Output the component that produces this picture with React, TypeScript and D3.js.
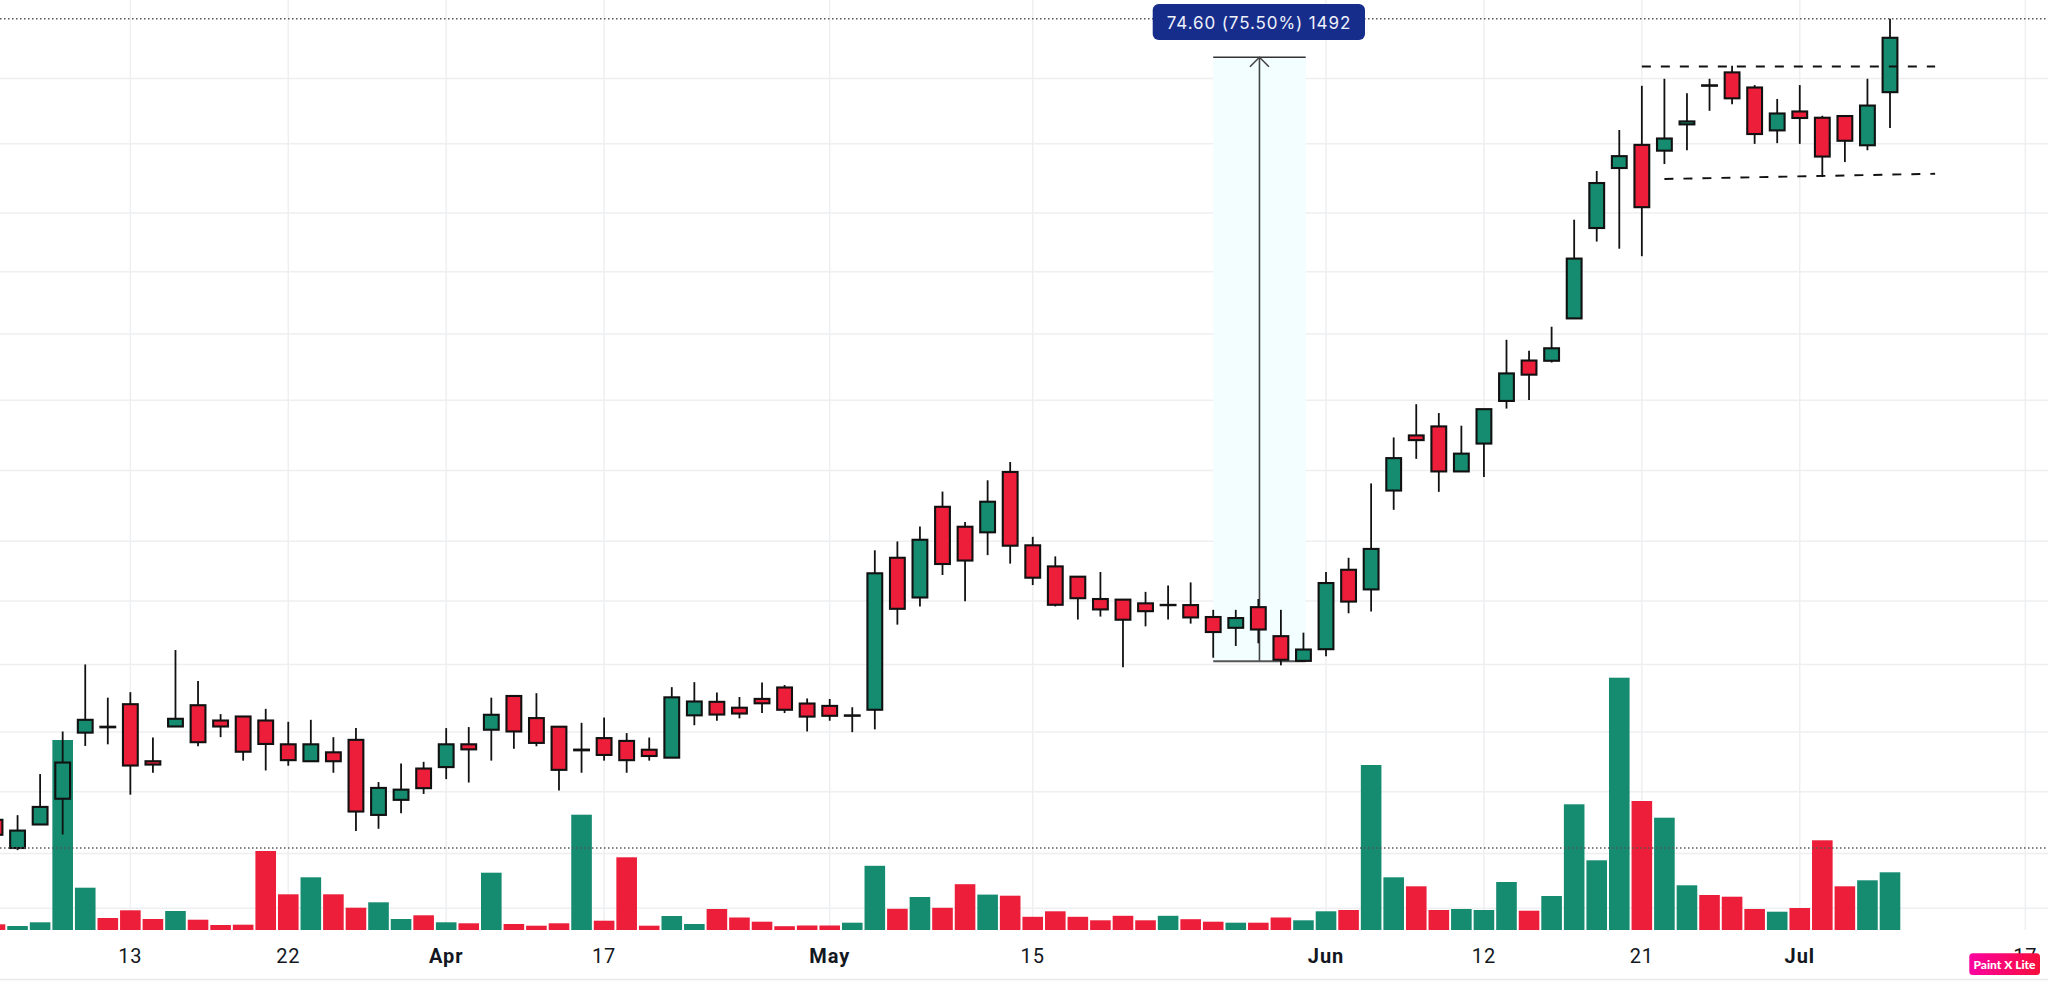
import * as d3 from 'd3';
import React, { FC, useEffect, useRef } from 'react';

const opens = [
  85.24, 83.03, 84.87, 86.93, 92.45, 92.96, 94.93, 90.02, 92.98, 94.84,
  93.5, 93.85, 93.5, 91.45, 90.02, 90.77, 91.83, 85.63, 86.84, 89.41,
  89.53, 91.45, 92.7, 95.66, 93.71, 92.96, 90.94, 91.98, 91.74, 90.99,
  90.32, 93.95, 95.14, 94.62, 95.4, 96.42, 94.99, 94.78, 93.91, 94.44,
  108.8, 104.85, 114.09, 111.99, 111.41, 117.85, 110.07, 107.93, 106.9, 104.7,
  104.64, 104.28, 104.1, 104.11, 102.96, 101.93, 103.91, 101.14, 98.84, 99.92,
  107.59, 105.64, 115.83, 121.93, 122.96, 117.91, 121.01, 125.91, 130.74, 130.71,
  135.97, 147.91, 156.41, 159.82, 158.96, 162.9, 168.94, 170.98, 168.59, 161.99,
  164.87, 163.91, 164.17, 159.76, 167.86
];
const highs = [
  85.63, 85.61, 88.95, 92.55, 98.51, 95.51, 96.0, 92.03, 99.84, 97.0,
  94.06, 93.85, 94.52, 93.39, 93.56, 92.06, 92.84, 88.29, 89.83, 89.97,
  92.84, 92.93, 95.51, 95.66, 95.91, 92.96, 93.3, 93.76, 92.41, 92.03,
  96.45, 96.9, 95.98, 95.57, 96.86, 96.64, 95.44, 95.39, 94.66, 109.56,
  110.47, 112.02, 115.72, 112.49, 116.94, 118.95, 110.94, 108.94, 106.9, 107.37,
  104.64, 105.4, 106.03, 106.33, 103.65, 103.65, 104.7, 103.65, 101.47, 107.37,
  108.8, 116.6, 121.7, 125.53, 124.5, 123.04, 124.95, 133.29, 131.95, 134.92,
  149.06, 155.98, 162.05, 168.86, 169.97, 167.7, 169.97, 172.04, 168.97, 166.8,
  168.97, 164.21, 164.17, 169.97, 179.74
];
const lows = [
  83.82, 82.87, 84.87, 84.08, 91.31, 91.45, 87.26, 89.06, 92.98, 91.28,
  92.06, 90.07, 89.25, 89.64, 90.02, 89.06, 84.35, 84.53, 85.77, 87.32,
  88.53, 88.25, 90.07, 91.07, 91.28, 87.59, 89.06, 90.07, 89.06, 90.07,
  90.32, 93.09, 93.48, 93.69, 94.15, 94.15, 92.55, 93.48, 92.49, 92.73,
  102.23, 103.98, 107.07, 104.48, 109.07, 108.21, 106.07, 103.98, 102.72, 103.0,
  98.25, 102.07, 102.72, 102.33, 99.13, 100.22, 100.47, 98.43, 98.84, 99.26,
  103.32, 103.49, 113.77, 119.3, 115.69, 117.91, 117.3, 125.02, 126.02, 130.5,
  135.97, 146.06, 145.09, 144.08, 156.99, 159.02, 164.97, 165.99, 159.97, 160.08,
  159.97, 155.11, 157.28, 159.02, 162.35
];
const closes = [
  84.06, 84.39, 86.27, 89.91, 93.56, 92.91, 89.66, 89.74, 93.65, 91.63,
  92.98, 90.82, 91.48, 90.11, 91.45, 90.02, 85.9, 87.81, 87.67, 87.79,
  91.45, 91.02, 94.0, 92.55, 91.57, 89.3, 91.0, 90.55, 90.11, 90.46,
  95.54, 95.17, 94.02, 94.11, 95.01, 94.44, 93.84, 93.91, 93.95, 107.24,
  103.75, 110.64, 108.17, 108.52, 114.63, 110.03, 106.8, 104.14, 104.78, 103.69,
  102.7, 103.52, 104.13, 102.92, 101.53, 102.86, 101.77, 98.94, 99.89, 106.27,
  104.45, 109.7, 119.38, 121.4, 117.91, 119.88, 124.95, 129.18, 129.03, 132.24,
  143.76, 154.24, 158.15, 150.81, 160.77, 163.35, 168.86, 166.9, 161.44, 164.56,
  163.87, 158.09, 160.43, 165.78, 176.58
];
const volumes = [
  5.7, 4, 7.7, 190, 42.3, 12, 19.7, 11, 19, 10.3,
  5, 5.3, 79, 35.7, 52.7, 35.7, 22.3, 27.7, 11, 14.7,
  7.7, 6.7, 57.3, 6, 4.3, 6.7, 115.3, 9.3, 72.7, 4.3,
  14, 6, 21, 12.5, 8.3, 3.8, 4.5, 4.5, 7.3, 64.2,
  21.2, 33, 22.2, 45.8, 35.4, 34.3, 13.2, 18.7, 13.2, 9.7,
  14.2, 9.7, 14.2, 10.8, 8.3, 7.3, 7.3, 12.5, 9.7, 18.7,
  20, 165, 52.7, 43.7, 20, 21, 20, 48, 19.3, 34,
  125.7, 69.7, 252.3, 129, 112.3, 44.7, 35, 33.3, 21, 18.3,
  22, 89.7, 43.7, 49.7, 57.7
];

const tickIndexes = [6, 13, 20, 27, 37, 46, 59, 66, 73, 80, 90];
const tickLabels = ['13', '22', 'Apr', '17', 'May', '15', 'Jun', '12', '21', 'Jul', '17'];
const monthLabels = ['Apr', 'May', 'Jun', 'Jul'];
const gridPrices = [170, 160, 150, 142, 134, 126, 118, 110.5, 104.5, 98.5, 92.5, 87.5, 82.6, 78.5];

const priceLines = [179.74, 83.03];
const measureFrom = 98.8;
const measureTo = 173.4;
const measureStart = 54;
const measureEnd = 58.1;
const measureLabel = '74.60 (75.50%) 1492';
const upperTrend = [[73, 171.93], [86, 171.93]];
const lowerTrend = [[74, 154.82], [86, 155.58]];

const GREEN = '#158b70';
const RED = '#ec1e3a';
const GRID = '#eeeff1';

const App: FC = (): JSX.Element => {
  const ref = useRef<SVGSVGElement>(null);

  useEffect(() => {
    const width = 2048;
    const height = 982;
    const svg = d3.select(ref.current).attr('width', width).attr('height', height);
    svg.selectAll('*').remove();

    const x = d3.scaleLinear().domain([0, 84]).range([-5, 1890]);
    const y = d3.scaleLog().domain([measureTo, measureFrom]).range([57.3, 661.3]);
    const v = d3.scaleLinear().domain([0, 252]).range([930, 678]);
    const idx = d3.range(opens.length);
    const isUp = (i: number) => closes[i] >= opens[i];

    svg.append('rect').attr('width', width).attr('height', height).attr('fill', '#fff');

    // grid
    svg.append('g')
      .selectAll('line')
      .data(gridPrices)
      .join('line')
      .attr('x1', 0)
      .attr('x2', width)
      .attr('y1', (d) => y(d))
      .attr('y2', (d) => y(d))
      .attr('stroke', GRID)
      .attr('stroke-width', 1.5);
    svg.append('g')
      .selectAll('line')
      .data(tickIndexes)
      .join('line')
      .attr('x1', (d) => x(d))
      .attr('x2', (d) => x(d))
      .attr('y1', 0)
      .attr('y2', 930)
      .attr('stroke', GRID)
      .attr('stroke-width', 1.5);
    svg.append('line')
      .attr('x1', 0)
      .attr('x2', width)
      .attr('y1', 979.5)
      .attr('y2', 979.5)
      .attr('stroke', '#e6e8ec')
      .attr('stroke-width', 1.5);

    // measure box background
    svg.append('rect')
      .attr('x', x(measureStart))
      .attr('width', x(measureEnd) - x(measureStart))
      .attr('y', y(measureTo))
      .attr('height', y(measureFrom) - y(measureTo))
      .attr('fill', '#f2feff');

    // volume
    svg.append('g')
      .selectAll('rect')
      .data(idx)
      .join('rect')
      .attr('x', (i) => x(i) - 10.3)
      .attr('width', 20.6)
      .attr('y', (i) => v(volumes[i]))
      .attr('height', (i) => v(0) - v(volumes[i]))
      .attr('fill', (i) => (isUp(i) ? GREEN : RED));

    // measure tool lines sit under the candles
    const mid = (measureStart + measureEnd) / 2;
    const mx = x(mid);
    const top = y(measureTo);
    const bot = y(measureFrom);
    svg.append('line')
      .attr('x1', mx)
      .attr('x2', mx)
      .attr('y1', top)
      .attr('y2', bot)
      .attr('stroke', '#444')
      .attr('stroke-width', 1.6);
    svg.append('line')
      .attr('x1', x(measureStart))
      .attr('x2', x(measureEnd))
      .attr('y1', top)
      .attr('y2', top)
      .attr('stroke', '#333')
      .attr('stroke-width', 1.6);
    svg.append('line')
      .attr('x1', x(measureStart))
      .attr('x2', x(measureEnd))
      .attr('y1', bot)
      .attr('y2', bot)
      .attr('stroke', '#555')
      .attr('stroke-width', 2);
    svg.append('path')
      .attr('d', `M${mx - 9.5},${top + 9.5}L${mx},${top}L${mx + 9.5},${top + 9.5}`)
      .attr('fill', 'none')
      .attr('stroke', '#444')
      .attr('stroke-width', 1.6);

    // candles
    svg.append('g')
      .selectAll('line')
      .data(idx)
      .join('line')
      .attr('x1', (i) => x(i))
      .attr('x2', (i) => x(i))
      .attr('y1', (i) => y(highs[i]))
      .attr('y2', (i) => y(lows[i]))
      .attr('stroke', '#111')
      .attr('stroke-width', 1.8);
    svg.append('g')
      .selectAll('rect')
      .data(idx)
      .join('rect')
      .attr('x', (i) => x(i) - 7.4)
      .attr('width', 14.8)
      .attr('y', (i) => y(Math.max(opens[i], closes[i])))
      .attr('height', (i) => Math.abs(y(opens[i]) - y(closes[i])))
      .attr('fill', (i) => (isUp(i) ? GREEN : RED))
      .attr('stroke', '#111')
      .attr('stroke-width', 2.1);

    // dotted price lines
    svg.append('g')
      .selectAll('line')
      .data(priceLines)
      .join('line')
      .attr('x1', 0)
      .attr('x2', width)
      .attr('y1', (d) => y(d))
      .attr('y2', (d) => y(d))
      .attr('stroke', '#555')
      .attr('stroke-width', 1.4)
      .attr('stroke-dasharray', '1.5 2.5');

    // dashed trend lines
    const trend = d3
      .line<number[]>()
      .x((d) => x(d[0]))
      .y((d) => y(d[1]));
    [upperTrend, lowerTrend].forEach((t) => {
      svg.append('path')
        .attr('d', trend(t))
        .attr('fill', 'none')
        .attr('stroke', '#111')
        .attr('stroke-width', 1.9)
        .attr('stroke-dasharray', '9 10');
    });

    // measure label
    svg.append('rect')
      .attr('x', 1152.7)
      .attr('y', 4)
      .attr('width', 212.3)
      .attr('height', 36)
      .attr('rx', 6)
      .attr('fill', '#172d8c');
    svg.append('text')
      .attr('x', 1259)
      .attr('y', 23)
      .attr('text-anchor', 'middle')
      .attr('dominant-baseline', 'central')
      .attr('font-family', 'Inter')
      .attr('font-size', 17)
      .attr('letter-spacing', 0.9)
      .attr('fill', '#eef1fa')
      .text(measureLabel);

    // x axis labels
    svg.append('g')
      .selectAll('text')
      .data(tickLabels)
      .join('text')
      .attr('x', (d, i) => x(tickIndexes[i]))
      .attr('y', 956)
      .attr('text-anchor', 'middle')
      .attr('dominant-baseline', 'central')
      .attr('font-family', 'Roboto')
      .attr('font-size', 20)
      .attr('letter-spacing', 0.9)
      .attr('font-weight', (d) => (monthLabels.includes(d) ? 700 : 400))
      .attr('fill', '#131722')
      .text((d) => d);

    // watermark badge
    const grad = svg.append('defs')
      .append('linearGradient')
      .attr('id', 'badge')
      .attr('x1', 0)
      .attr('x2', 1)
      .attr('y1', 0)
      .attr('y2', 0);
    grad.append('stop').attr('offset', 0).attr('stop-color', '#fb03a0');
    grad.append('stop').attr('offset', 1).attr('stop-color', '#f80e3c');
    svg.append('rect')
      .attr('x', 1969.3)
      .attr('y', 953.3)
      .attr('width', 70.7)
      .attr('height', 21.7)
      .attr('rx', 3.5)
      .attr('fill', 'url(#badge)');
    svg.append('text')
      .attr('x', 2004.5)
      .attr('y', 964)
      .attr('text-anchor', 'middle')
      .attr('dominant-baseline', 'central')
      .attr('font-family', 'Lato')
      .attr('font-weight', 900)
      .attr('font-size', 12)
      .attr('fill', '#fff')
      .text('Paint X Lite');
  }, []);

  return <svg ref={ref} style={{ position: 'fixed', left: 0, top: 0 }} />;
};

export default App;
